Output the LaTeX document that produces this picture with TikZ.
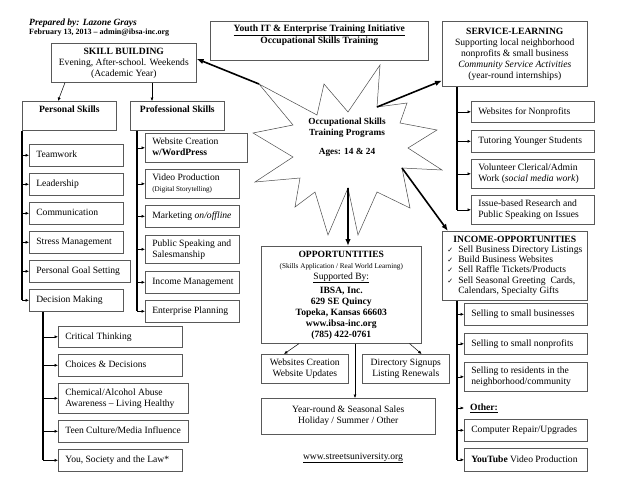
\documentclass[tikz,border=0pt]{standalone}
\usepackage{fontspec}
\setmainfont{Liberation Serif}
\newfontfamily\dejavu{DejaVu Sans}
\usetikzlibrary{arrows.meta}
\newcommand\ck{\makebox[11pt][l]{\dejavu\fontsize{7}{8}\selectfont ✓}}
\newcommand\lbx[6]{%
  \pgfmathsetmacro\bxw{#4-#2}\pgfmathsetmacro\bxh{#5-#3}\pgfmathsetmacro\bxt{#4-#2-14}%
  \node[box,anchor=north west,minimum width=\bxw pt,minimum height=\bxh pt,inner xsep=7pt] (#1) at (#2,#3)
  {\makebox[\bxt pt][l]{\begin{tabular}{@{}l@{}}#6\end{tabular}}};}
\newcommand\cbx[6]{%
  \pgfmathsetmacro\bxw{#4-#2}\pgfmathsetmacro\bxh{#5-#3}\pgfmathsetmacro\bxt{#4-#2-4}%
  \node[box,anchor=north west,minimum width=\bxw pt,minimum height=\bxh pt,inner xsep=2pt] (#1) at (#2,#3)
  {\makebox[\bxt pt][c]{\begin{tabular}{@{}c@{}}#6\end{tabular}}};}
\begin{document}
\begin{tikzpicture}[x=1pt,y=-1pt,
  box/.style={draw=black!65, line width=0.6pt, inner ysep=1pt, font=\fontsize{9.6}{11}\selectfont},
  sarr/.style={line width=0.5pt, -{Latex[length=3.5pt,width=3pt]}},
  bar/.style={line width=1.5pt},
  tarr/.style={line width=1.6pt, -{Latex[length=7pt,width=5.5pt]}},
  txt/.style={inner sep=0pt, font=\fontsize{9.6}{11}\selectfont},
  starline/.style={draw=black!70, line width=0.5pt}]
\fill[white] (0,0) rectangle (638,493);
\useasboundingbox (0,0) rectangle (638,493);

% header
\node[txt, anchor=west, font=\fontsize{9.5}{11}\selectfont\bfseries\itshape] (prep) at (29,23) {Prepared by: Lazone Grays};
\node[txt, anchor=west, font=\fontsize{8}{9}\selectfont\bfseries] (feb) at (29,33) {February 13, 2013 -- admin@ibsa-inc.org};

% top boxes
\cbx{sb}{51}{43}{196}{82}{\textbf{SKILL BUILDING}\\Evening, After-school. Weekends\\(Academic Year)}
\cbx{youth}{210}{21}{428}{60}{\textbf{\underline{Youth IT \& Enterprise Training Initiative}}\\\textbf{Occupational Skills Training}\\\strut}
\cbx{sl}{442}{21}{587}{86}{\textbf{SERVICE-LEARNING}\\Supporting local neighborhood\\nonprofits \& small business\\\textit{Community Service Activities}\\(year-round internships)}

% personal
\cbx{ps}{22}{101}{116}{130}{\textbf{Personal Skills}\\\strut}
\lbx{tw}{29}{144}{123}{166}{Teamwork}
\lbx{ld}{29}{173}{123}{195}{Leadership}
\lbx{cm}{29}{202}{123}{224}{Communication}
\lbx{sm}{29}{231}{123}{253}{Stress Management}
\lbx{pg}{29}{260}{130}{282}{Personal Goal Setting}
\lbx{dm}{29}{289}{123}{311}{Decision Making}

% decision sub-list
\lbx{ct}{58}{326}{182}{347}{Critical Thinking}
\lbx{cd}{58}{354}{182}{376}{Choices \& Decisions}
\lbx{ca}{58}{383}{188}{413}{Chemical/Alcohol Abuse\\Awareness -- Living Healthy}
\lbx{tc}{58}{420}{188}{442}{Teen Culture/Media Influence}
\lbx{ys}{58}{449}{182}{471}{You, Society and the Law*}

% professional
\cbx{pf}{130}{101}{224}{130}{\textbf{Professional Skills}\\\strut}
\lbx{wc}{145}{133}{247}{162}{Website Creation\\\textbf{w/WordPress}}
\lbx{vp}{145}{169}{239}{198}{Video Production\\{\fontsize{7.1}{8}\selectfont(Digital Storytelling)}}
\lbx{mk}{145}{205}{239}{227}{Marketing \textit{on/offline}}
\lbx{pspk}{145}{235}{239}{263}{Public Speaking and\\Salesmanship}
\lbx{im}{145}{271}{239}{293}{Income Management}
\lbx{ep}{145}{300}{239}{322}{Enterprise Planning}

% service items
\lbx{wn}{471}{101}{594}{122}{Websites for Nonprofits}
\lbx{ty}{471}{130}{594}{152}{Tutoring Younger Students}
\lbx{vc}{471}{159}{594}{188}{Volunteer Clerical/Admin\\Work (\textit{social media work})}
\lbx{ib}{471}{195}{594}{224}{Issue-based Research and\\Public Speaking on Issues}

% income
\node[box, anchor=north west, minimum width=145pt, minimum height=69pt, inner xsep=0pt,
  font=\fontsize{9.6}{10.2}\selectfont] (io) at (442,231)
  {\makebox[145pt][c]{\begin{tabular}{@{}l@{}l@{}}\multicolumn{2}{@{}c@{}}{\textbf{INCOME-OPPORTUNITIES}}\\
  \ck&Sell Business Directory Listings\\
  \ck&Build Business Websites\\
  \ck&Sell Raffle Tickets/Products\\
  \ck&Sell Seasonal Greeting\ \ Cards,\\
  &Calendars, Specialty Gifts\end{tabular}}};
\lbx{sbz}{464}{303}{587}{325}{Selling to small businesses}
\lbx{sn}{464}{333}{587}{354}{Selling to small nonprofits}
\lbx{sr}{464}{362}{587}{391}{Selling to residents in the\\neighborhood/community}
\node[txt, anchor=west] (oth) at (470,408) {\textbf{\underline{Other:}}};
\lbx{cr}{464}{419}{587}{441}{Computer Repair/Upgrades}
\lbx{yt}{464}{448}{587}{471}{\textbf{YouTube} Video Production}

% opportunities
\cbx{op}{261}{246}{421}{343}{\textbf{OPPORTUNTITIES}\\{\fontsize{7.2}{8}\selectfont(Skills Application / Real World Learning)}\\\underline{Supported By:}\\[3pt]\textbf{IBSA, Inc.}\\\textbf{629 SE Quincy}\\\textbf{Topeka, Kansas 66603}\\\textbf{www.ibsa-inc.org}\\\textbf{(785) 422-0761}}
\cbx{wsc}{261}{354}{348}{383}{Websites Creation\\Website Updates}
\cbx{ds}{362}{354}{449}{383}{Directory Signups\\Listing Renewals}
\cbx{yr}{261}{398}{435}{434}{Year-round \& Seasonal Sales\\Holiday / Summer / Other\\[2pt]}
\node[txt] (su) at (353,458) {\underline{www.streetsuniversity.org}};

% star
\draw[starline] (259,84) -- (317,115) -- (324,84) -- (348,112) -- (380,65) -- (377,107) -- (407,103) -- (400,123) -- (437,130) -- (408,148) -- (442,170) -- (402,168) -- (410,208) -- (377,192) -- (358,235) -- (348,188) -- (328,235) -- (315,192) -- (295,207) -- (300,178) -- (255,182) -- (293,157) -- (253,133) -- (293,125) -- cycle;
\node[txt, font=\fontsize{9.3}{11}\selectfont\bfseries, align=center] (stxt) at (347,137) {Occupational Skills\\Training Programs\\[8pt]Ages: 14 \& 24};
\coordinate (stA) at (259,84);
\coordinate (stF) at (377,107);
\coordinate (stL) at (402,168);
\coordinate (stP) at (348,188);

% star arrows
\draw[tarr] (stA) -- ([yshift=4pt]sb.east);
\draw[tarr] (stF) -- ([yshift=6pt]sl.south west);
\draw[tarr] (stL) -- ([xshift=6pt]io.north west);
\draw[tarr] (stP) -- (stP |- op.north);

% skill building arrows
\draw[sarr] ([xshift=14pt]sb.south west) -- ([xshift=36pt]ps.north west);
\draw[sarr] ([xshift=101pt]sb.south west) -- ([xshift=22pt]pf.north west);

% personal bar
\draw[bar] (ps.south west) -- (ps.south west |- dm.west);
\foreach \n in {tw,ld,cm,sm,pg,dm} \draw[sarr] (ps.south west |- \n.west) -- (\n.west);

% professional bar
\coordinate (pbar) at ([xshift=7pt]pf.south west);
\draw[bar] (pbar) -- (pbar |- ep.west);
\foreach \n in {wc,vp,mk,pspk,im,ep} \draw[sarr] (pbar |- \n.west) -- (\n.west);

% decision bar
\coordinate (dbar) at ([xshift=14pt]dm.south west);
\draw[bar] (dbar) -- (dbar |- ys.west);
\foreach \n in {ct,cd,ca,tc,ys} \draw[sarr] (dbar |- \n.west) -- (\n.west);

% service bar
\coordinate (sbar) at ([xshift=15pt]sl.south west);
\draw[bar] (sbar) -- (sbar |- ib.west);
\foreach \n in {wn,ty,vc,ib} \draw[sarr] (sbar |- \n.west) -- (\n.west);

% income bar
\coordinate (ibar) at ([xshift=15pt]io.south west);
\draw[bar] (ibar) -- (ibar |- yt.west);
\foreach \n in {sbz,sn,sr,cr,yt} \draw[sarr] (ibar |- \n.west) -- (\n.west);
\draw[sarr, shorten >=6pt] (ibar |- oth.west) -- (oth.west);

% opportunities arrows
\draw[sarr] ([xshift=38pt]op.south west) -- ([xshift=23pt]wsc.north west);
\draw[sarr] ([xshift=-12pt]op.south east) -- ([xshift=-28pt]ds.north east);
\draw[sarr] ([xshift=94pt]op.south west) -- ([xshift=94pt]yr.north west);
\end{tikzpicture}
\end{document}
